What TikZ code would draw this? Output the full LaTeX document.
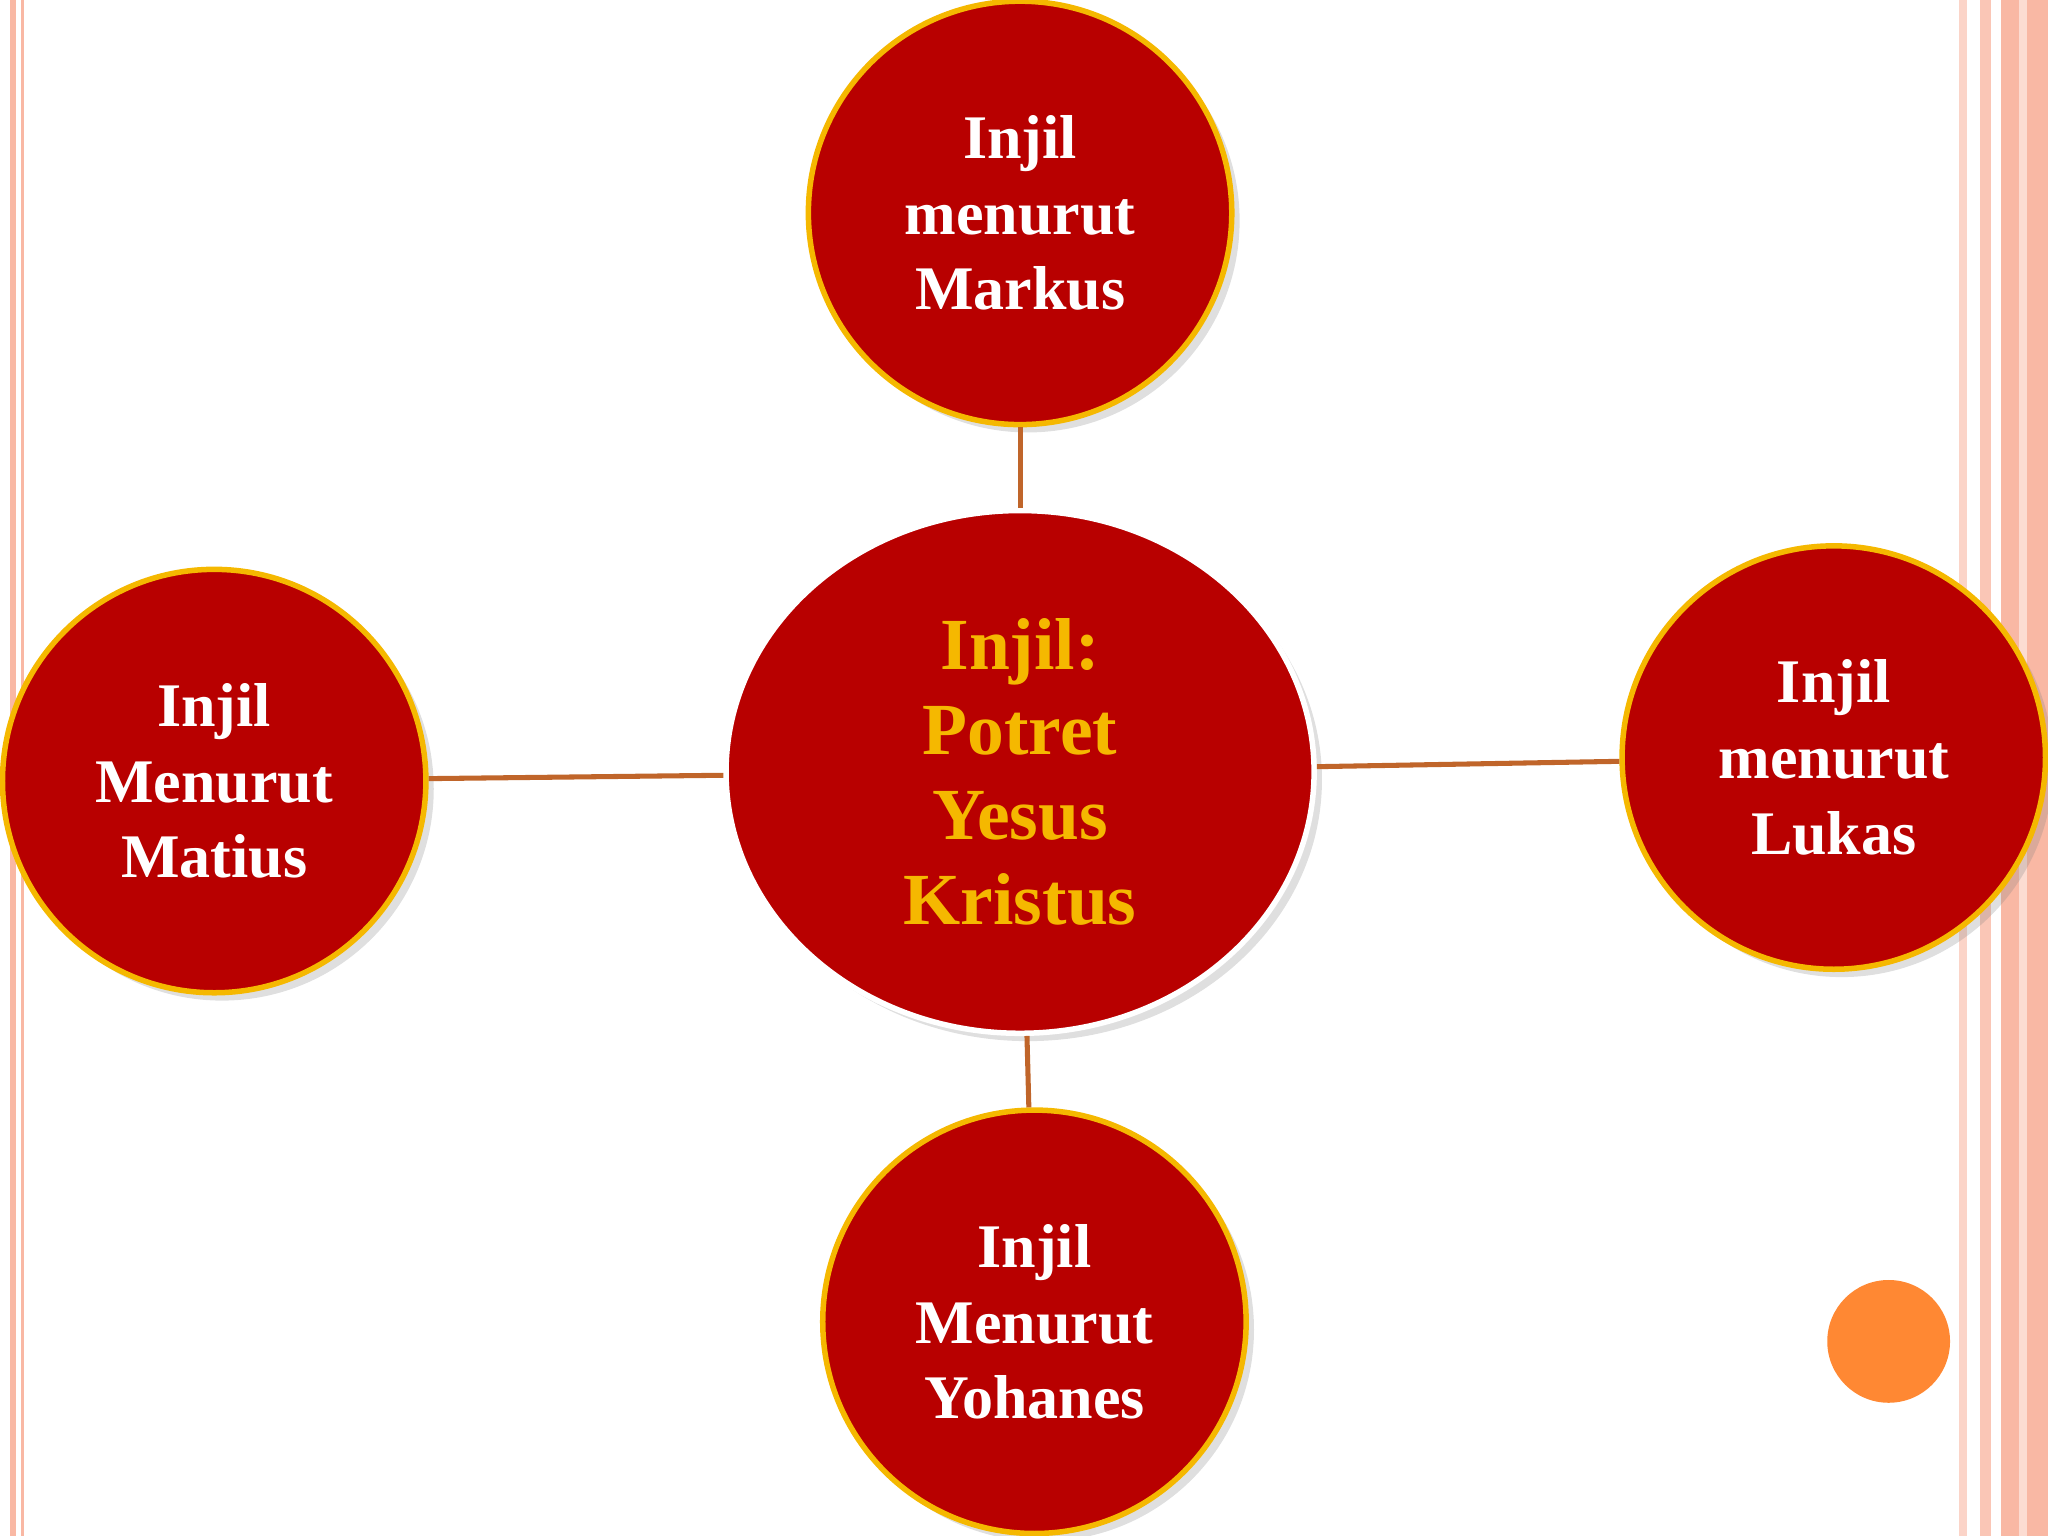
\documentclass[tikz,border=0pt]{standalone}
\usepackage{fontspec}
\setmainfont{Liberation Serif}
\usetikzlibrary{shadows}
\definecolor{injilred}{HTML}{B80000}
\definecolor{injilgold}{HTML}{F5B800}
\definecolor{linkline}{HTML}{C0652A}
\definecolor{stripe}{HTML}{F9B8A4}
\definecolor{dot}{HTML}{FF8833}
\tikzset{
  sub/.style={circle, fill=injilred, draw=injilgold, line width=1.2pt,
    minimum size=3.24cm, inner sep=0pt, align=center, text=white,
    font=\bfseries\fontsize{13.5}{16.5}\selectfont,
    drop shadow={opacity=0.25, shadow xshift=0.06cm, shadow yshift=-0.06cm}},
  hub/.style={ellipse, fill=injilred, draw=white, line width=1.2pt,
    minimum width=4.5cm, minimum height=4cm, inner sep=0pt, align=center,
    text=injilgold, font=\bfseries\fontsize{16}{18.5}\selectfont,
    drop shadow={opacity=0.25, shadow xshift=0.06cm, shadow yshift=-0.06cm}},
  link/.style={linkline, line width=1.1pt}
}
\usetikzlibrary{shapes.geometric}
\begin{document}
\begin{tikzpicture}[x=0.01cm, y=-0.01cm]
\useasboundingbox (0,0) rectangle (1568,1176);
% page decoration
\draw [stripe, line width=1.2pt] (10,0) -- (10,1176);
\draw [stripe, line width=0.6pt] (17,0) -- (17,1176);
\fill [stripe!60] (1500,0) rectangle (1506,1176);
\fill [stripe!80] (1516,0) rectangle (1524,1176);
\fill [stripe] (1532,0) rectangle (1568,1176);
\fill [stripe!50] (1546,0) rectangle (1552,1176);
\fill [dot] (1446,1027) circle (47);

\node [hub] (pusat) at (781,591) {Injil:\\Potret\\Yesus\\Kristus};
\node [sub] (markus) at (781,163) {Injil\\menurut\\Markus};
\node [sub] (matius) at (164,598) {Injil\\Menurut\\Matius};
\node [sub] (lukas) at (1404,580) {Injil\\menurut\\Lukas};
\node [sub] (yohanes) at (792,1012) {Injil\\Menurut\\Yohanes};

\draw [link] (markus) -- (pusat);
\draw [link] (matius) -- (pusat);
\draw [link] (pusat) -- (lukas);
\draw [link] (pusat) -- (yohanes);
\end{tikzpicture}
\end{document}
